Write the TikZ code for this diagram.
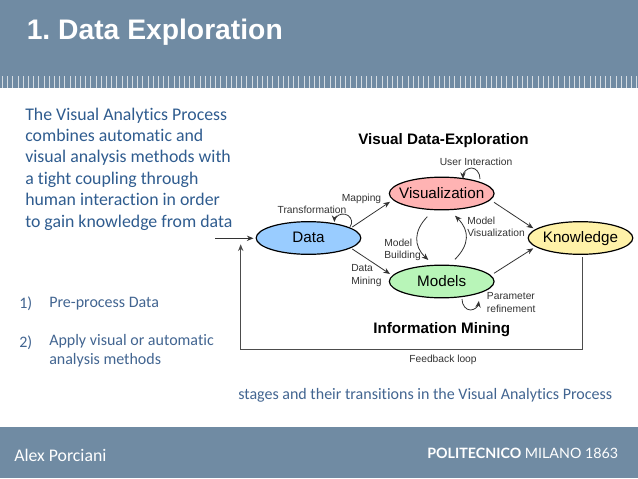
\documentclass[tikz,border=0pt]{standalone}
\usepackage{fontspec}
\setmainfont[Ligatures=NoCommon]{Carlito}
\newfontfamily\arial{Liberation Sans}
\newfontfamily\logofont{Lato}
\usetikzlibrary{arrows.meta,shapes.geometric}
\definecolor{band}{HTML}{708BA3}
\definecolor{bodyblue}{HTML}{2F5C8F}
\definecolor{listblue}{HTML}{426591}
\definecolor{line}{HTML}{333333}
\definecolor{cdata}{HTML}{99CCFF}
\definecolor{cvis}{HTML}{FFB3B3}
\definecolor{cmod}{HTML}{B8F5B8}
\definecolor{ckno}{HTML}{FFF2A8}
\newcommand{\lowtxt}[1]{\raisebox{-3.7pt}[0pt][0pt]{\makebox[0pt]{#1}}}
\tikzset{
  state/.style={draw=black,line width=0.9pt,ellipse,minimum width=78.5pt,minimum height=24.5pt,inner sep=0pt,font=\arial\fontsize{11.4}{12}\selectfont},
  conn/.style={draw=line,line width=0.6pt,-{Stealth[length=5pt,width=4pt]}},
  lab/.style={font=\arial\fontsize{7.7}{9.2}\selectfont,text=black!80,align=left,inner sep=0pt},
  labc/.style={lab,align=center},
  head/.style={font=\arial\bfseries\fontsize{11.4}{13}\selectfont,inner sep=0pt},
  bodytxt/.style={font=\fontsize{13.35}{16.05}\selectfont,text=bodyblue,align=left,inner sep=0pt,anchor=north west},
  listtxt/.style={font=\fontsize{12}{14.4}\selectfont,text=listblue,align=left,inner sep=0pt,anchor=west}
}
\begin{document}
\frenchspacing
\begin{tikzpicture}[x=0.75pt,y=-0.75pt]
\useasboundingbox (0,0) rectangle (638,478);
\fill[white] (0,0) rectangle (638,478);
\fill[band] (0,0) rectangle (638,88);
\foreach \i in {0,...,122} {\draw[white!70!band,line width=0.7pt] ({2.5+\i*5.2},76) -- ({2.5+\i*5.2},88);}
\fill[band] (0,427) rectangle (638,478);
\node[font=\arial\bfseries\fontsize{21.2}{24}\selectfont,text=white,anchor=west,inner sep=0pt] (title) at (26.5,32) {1. Data Exploration};
\node[bodytxt] (intro) at (25,107.5) {The Visual Analytics Process\\combines automatic and\\visual analysis methods with\\a tight coupling through\\human interaction in order\\to gain knowledge from data};
\node[listtxt] (n1) at (19,304) {1)};
\node[listtxt] (t1) at (49,304) {Pre-process Data};
\node[listtxt] (n2) at (19,343) {2)};
\node[listtxt,anchor=north west] (t2) at (49,334) {Apply visual or automatic\\analysis methods};
\node[listtxt] (cap) at (238,395.5) {stages and their transitions in the Visual Analytics Process};
\node[font=\fontsize{13.3}{15}\selectfont,text=white,anchor=west,inner sep=0pt] (author) at (14,455) {Alex Porciani};
\node[font=\logofont\fontsize{10.7}{13}\selectfont,text=white,anchor=west,inner sep=0pt] (logo) at (427,453) {\textbf{POLITECNICO} MILANO 1863};

\node[state,fill=cdata] (data) at (308.5,238) {\lowtxt{Data}};
\node[state,fill=cvis] (vis) at (441.7,193.5) {\lowtxt{Visualization}};
\node[state,fill=cmod] (mod) at (441.7,281.5) {\lowtxt{Models}};
\node[state,fill=ckno] (kno) at (580.5,238) {\lowtxt{Knowledge}};
\node[head] (h1) at (443.5,140.5) {Visual Data-Exploration};
\node[head] (h2) at (441.7,329.5) {Information Mining};

\coordinate (in) at (215,238.3);
\draw[conn] (in) -- ([shift={(-55,0.3)}]data.center);
\draw[conn] ([shift={(43.8,-11)}]data.center) -- ([shift={(-51.7,8.3)}]vis.center);
\draw[conn] ([shift={(43.8,11)}]data.center) -- ([shift={(-51.7,-7.5)}]mod.center);
\draw[conn] ([shift={(52.3,8.8)}]vis.center) -- ([shift={(-47.2,-9.7)}]kno.center);
\draw[conn] ([shift={(52.3,-8.2)}]mod.center) -- ([shift={(-47.2,10.3)}]kno.center);
\draw[conn] ([shift={(-14.4,23.2)}]vis.center) .. controls ([shift={(-28.2,37.5)}]vis.center) and ([shift={(-28.2,52.5)}]vis.center) .. ([shift={(-13.4,-21.5)}]mod.center);
\draw[conn] ([shift={(13.3,-22.2)}]mod.center) .. controls ([shift={(28,-37)}]mod.center) and ([shift={(28,-51)}]mod.center) .. ([shift={(13.3,22.2)}]vis.center);
\draw[conn] ([shift={(41.5,-11.3)}]data.center) arc[start angle=36,end angle=-180,x radius=8.6,y radius=8];
\draw[conn] ([shift={(38.3,-14.5)}]vis.center) arc[start angle=0,end angle=-180,x radius=8.5,y radius=11];
\draw[conn] ([shift={(20.3,17.5)}]mod.center) arc[start angle=180,end angle=10,x radius=8.5,y radius=11];
\coordinate (f1) at (582.7,349.3);
\coordinate (f2) at (240.7,349.3);
\draw[conn,line width=0.8pt,draw=black!70] ([shift={(2.2,19.3)}]kno.center) -- (f1) -- (f2) -- (240.7,244.3);

\node[labc] (l1) at (361.5,198.5) {Mapping};
\node[labc] (l2) at (312,209.5) {Transformation};
\node[labc] (l3) at (476,161.5) {User Interaction};
\node[lab,anchor=west] (l4) at (467,226.5) {Model\\Visualization};
\node[lab,anchor=west] (l5) at (384,250) {Model\\Building};
\node[lab,anchor=west] (l6) at (351,275.5) {Data\\Mining};
\node[lab,anchor=west] (l7) at (486.7,302.5) {Parameter\\refinement};
\node[labc] (l8) at (443,359.5) {Feedback loop};
\end{tikzpicture}
\end{document}
